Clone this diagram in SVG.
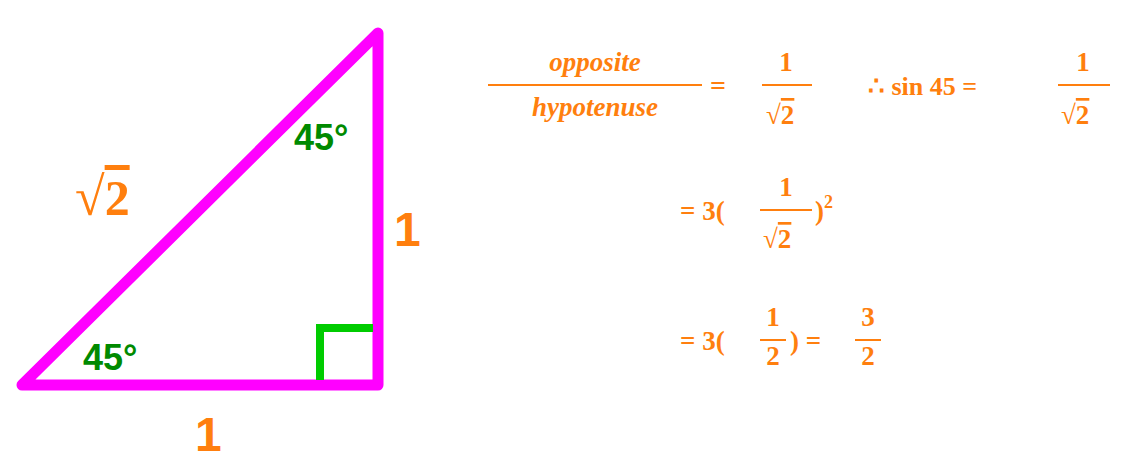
<svg xmlns="http://www.w3.org/2000/svg" width="1129" height="467" viewBox="0 0 1129 467">
<style>
.m{font-family:"Liberation Serif",serif;font-weight:bold;fill:#ff7f0e}
.i{font-style:italic}
.s{font-family:"Liberation Sans",sans-serif;font-weight:bold}
.fl{stroke:#ff7f0e;stroke-width:2}
</style>
<rect width="1129" height="467" fill="#fff"/>
<g id="triangle">
<polygon points="22,385 378,33 378,385" fill="none" stroke="#ff00ff" stroke-width="11" stroke-linejoin="round"/>
<polyline points="320,380 320,328 373,328" fill="none" stroke="#00cc00" stroke-width="8"/>
</g>
<g id="labels">
<text class="m" x="75" y="215" font-size="54">√<tspan font-size="50" text-decoration="overline">2</tspan></text>
<text class="s" x="394" y="246" font-size="48" fill="#ff7f0e">1</text>
<text class="s" x="195" y="451" font-size="48" fill="#ff7f0e">1</text>
<text class="s" x="294" y="150" font-size="36" fill="#008a00">45°</text>
<text class="s" x="83" y="370" font-size="36" fill="#008a00">45°</text>
</g>
<g id="equations">
<text class="m i" x="595" y="71" font-size="27" text-anchor="middle">opposite</text>
<line class="fl" x1="488" y1="85" x2="702" y2="85"/>
<text class="m i" x="595" y="116" font-size="27" text-anchor="middle">hypotenuse</text>
<text class="m" x="710" y="95" font-size="28">=</text>
<text class="m" x="786" y="71" font-size="27" text-anchor="middle">1</text>
<line class="fl" x1="762" y1="85" x2="812" y2="85"/>
<text class="m" x="766" y="124" font-size="27">√<tspan text-decoration="overline">2</tspan></text>
<text class="m" x="868" y="95" font-size="26">∴ sin 45 =</text>
<text class="m" x="1083" y="71" font-size="27" text-anchor="middle">1</text>
<line class="fl" x1="1058" y1="85" x2="1110" y2="85"/>
<text class="m" x="1061" y="124" font-size="27">√<tspan text-decoration="overline">2</tspan></text>

<text class="m" x="680" y="220" font-size="27">= 3(</text>
<text class="m" x="786" y="196" font-size="27" text-anchor="middle">1</text>
<line class="fl" x1="760" y1="210" x2="812" y2="210"/>
<text class="m" x="763" y="248" font-size="27">√<tspan text-decoration="overline">2</tspan></text>
<text class="m" x="815" y="220" font-size="27">)<tspan font-size="18" dy="-12">2</tspan></text>

<text class="m" x="680" y="350" font-size="27">= 3(</text>
<text class="m" x="773" y="326" font-size="27" text-anchor="middle">1</text>
<line class="fl" x1="760" y1="340" x2="786" y2="340"/>
<text class="m" x="773" y="365" font-size="27" text-anchor="middle">2</text>
<text class="m" x="790" y="350" font-size="27">) =</text>
<text class="m" x="868" y="326" font-size="27" text-anchor="middle">3</text>
<line class="fl" x1="855" y1="340" x2="881" y2="340"/>
<text class="m" x="868" y="365" font-size="27" text-anchor="middle">2</text>
</g>
</svg>
